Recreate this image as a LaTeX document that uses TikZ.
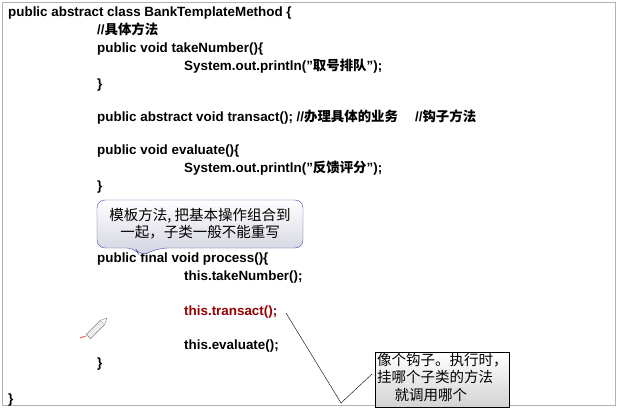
\documentclass[tikz,border=0pt]{standalone}
\usepackage{fontspec}
\setmainfont{Liberation Sans}
\newfontfamily\cjk{Noto Sans CJK SC}
\begin{document}
\begin{tikzpicture}[x=1pt,y=-1pt,
  code/.style={anchor=base west,inner sep=0pt,font=\fontsize{13.4}{15}\selectfont\bfseries}]
\useasboundingbox (0,0) rectangle (617,411);
\fill[white] (0,0) rectangle (617,411);
\draw[gray!60] (2,2) rectangle (615,405);
\node[code] (l1) at (8,17) {public abstract class BankTemplateMethod \{};
\node[code] (l2) at (97,35) {//{\cjk 具体方法}};
\node[code] (l3) at (97,53) {public void takeNumber()\{};
\node[code] (l4) at (184,71) {System.out.println("{\cjk 取号排队}");};
\node[code] (l5) at (97,89) {\}};
\node[code] (l6) at (97,122) {public abstract void transact(); //{\cjk 办理具体的业务}\quad\ //{\cjk 钩子方法}};
\node[code] (l7) at (97,155) {public void evaluate()\{};
\node[code] (l8) at (184,173) {System.out.println("{\cjk 反馈评分}");};
\node[code] (l9) at (97,191) {\}};
\node[code] (l10) at (97,262) {public final void process()\{};
\node[code] (l11) at (184,280) {this.takeNumber();};
\node[code,text=red!60!black] (l12) at (184,315) {this.transact();};
\node[code] (l13) at (184,349) {this.evaluate();};
\node[code] (l14) at (97,367) {\}};
\node[code] (l15) at (8,403) {\}};
% callout 1
\draw[blue!40!gray,top color=white,bottom color=blue!18!gray!30,rounded corners=8pt]
  (97,200) -- (303,200) -- (303,248) -- (160,248) -- (140,256) -- (135,248) -- (97,248) -- cycle;
\node[font=\fontsize{14.5}{17}\selectfont\cjk,align=center] (c1) at (200,224) {模板方法, 把基本操作组合到\\一起，子类一般不能重写};
% callout 2
\coordinate (t1) at (286,313);
\coordinate (t2) at (341,403);
\coordinate (t3) at (372,374);
\draw[black] (t1) -- (t2) -- (t3);
\node[draw=black,thick,top color=white,bottom color=gray!35,minimum width=134,minimum height=55,anchor=north west,inner sep=0pt] (c2) at (375,352) {};
\node[font=\fontsize{14.5}{17.5}\selectfont\cjk,align=left,anchor=north west,inner sep=0pt] (c2t) at (377,353) {像个钩子。执行时，\\挂哪个子类的方法\\\hspace{1.2em}就调用哪个};
% pencil
\begin{scope}[shift={(97,328)},rotate=45]
\draw[gray,fill=gray!15] (-12,-3) rectangle (8,3);
\draw[gray,fill=white] (8,-3) -- (14,0) -- (8,3);
\end{scope}
\draw[red!70,thick] (80,338) -- (86,336);
\end{tikzpicture}
\end{document}
